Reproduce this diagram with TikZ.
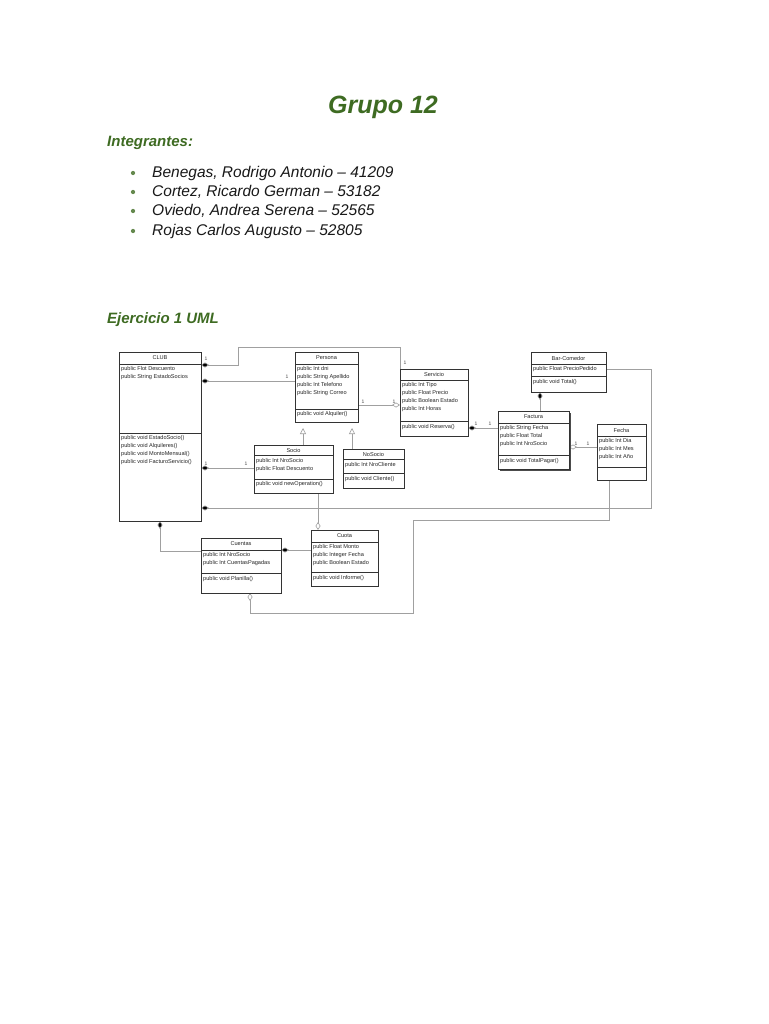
\documentclass[tikz,border=0pt]{standalone}
\usepackage{fontspec}
\setmainfont{Liberation Sans}
\usetikzlibrary{arrows.meta}
\definecolor{hgreen}{HTML}{3E6B22}
\definecolor{lgray}{HTML}{A0A0A0}
\tikzset{
 cls/.style={draw=black!80,line width=0.6pt,fill=white,anchor=north west,inner sep=0pt},
 tx/.style={anchor=north west,inner sep=0pt,align=left,font=\fontsize{5.6}{8.2}\selectfont,text=black!85},
 ttl/.style={inner sep=0pt,font=\fontsize{5.6}{7}\selectfont,text=black!85},
 con/.style={draw=lgray,line width=0.6pt},
 comp/.style={Diamond[length=8pt,width=5pt,fill=black]},
 agg/.style={Diamond[length=8pt,width=5pt,open,fill=white]},
 inh/.style={Triangle[length=6pt,width=6pt,open,fill=white]},
 mult/.style={inner sep=0pt,font=\fontsize{5}{5}\selectfont,text=black!70},
 bul/.style={anchor=west,inner sep=0pt,font=\fontsize{15.5}{18}\selectfont\itshape,text=black!90}
}
\newcommand{\umlcls}[7]{% name x1 y1 x2 y2 title-bottom y list of divider y
 \node[cls,minimum width={(#4-#2)*1pt},minimum height={(#5-#3)*1pt}] (#1) at (#2,#3) {};
 \node[ttl] (#1t) at ({(#2+#4)/2},{(#3+#6)/2}) {#7};
 \draw[black!80,line width=0.5pt] (#2,#6) -- (#4,#6);
}
\begin{document}
\begin{tikzpicture}[x=1pt,y=-1pt]
\useasboundingbox (0,0) rectangle (768,1024);
\fill[white] (0,0) rectangle (768,1024);
\node[font=\fontsize{25}{30}\selectfont\bfseries\itshape,text=hgreen] (title) at (383,107) {Grupo 12};
\node[anchor=west,inner sep=0pt,font=\fontsize{15}{18}\selectfont\bfseries\itshape,text=hgreen] (integ) at (107,143) {Integrantes:};
\foreach \y/\t [count=\i] in {173/{Benegas, Rodrigo Antonio – 41209},192/{Cortez, Ricardo German – 53182},211/{Oviedo, Andrea Serena – 52565},231/{Rojas Carlos Augusto – 52805}}{
 \node[circle,fill=hgreen!80,inner sep=1.5pt] (b\i) at (133,\y) {};
 \node[bul] (m\i) at (152,\y) {\t};
}
\node[anchor=west,inner sep=0pt,font=\fontsize{15}{18}\selectfont\bfseries\itshape,text=hgreen] (ej) at (107,320) {Ejercicio 1 UML};

% connectors (drawn first)
\coordinate (k1) at (238,347); \coordinate (k2) at (400,347);
\draw[con,{Diamond[length=8pt,width=5pt,fill=black]}-] (201,365) -- (238,365) -- (k1) -- (k2) -- (400,369);
\draw[con,{Diamond[length=8pt,width=5pt,fill=black]}-] (201,381) -- (295,381);
\draw[con,-{Diamond[length=8pt,width=5pt,open,fill=white]}] (358,405) -- (400,405);
\draw[con,-{Triangle[length=6pt,width=6pt,open,fill=white]}] (303,445) -- (303,428);
\draw[con,-{Triangle[length=6pt,width=6pt,open,fill=white]}] (352,449) -- (352,428);
\draw[con,{Diamond[length=8pt,width=5pt,fill=black]}-] (201,468) -- (254,468);
\draw[con,{Diamond[length=8pt,width=5pt,fill=black]}-] (201,508) -- (651,508) -- (651,369) -- (606,369);
\draw[con,{Diamond[length=8pt,width=5pt,fill=black]}-] (468,428) -- (498,428);
\draw[con,{Diamond[length=8pt,width=5pt,fill=black]}-] (540,392) -- (540,411);
\draw[con,{Diamond[length=8pt,width=5pt,open,fill=white]}-] (569,447) -- (597,447);
\draw[con,-{Diamond[length=8pt,width=5pt,open,fill=white]}] (318,493) -- (318,530);
\draw[con,{Diamond[length=8pt,width=5pt,fill=black]}-] (160,521) -- (160,551) -- (201,551);
\draw[con,{Diamond[length=8pt,width=5pt,fill=black]}-] (281,550) -- (311,550);
\draw[con,{Diamond[length=8pt,width=5pt,open,fill=white]}-] (250,593) -- (250,613) -- (413,613) -- (413,520) -- (609,520) -- (609,480);

% multiplicities
\node[mult] (n1) at (206,359) {1};
\node[mult] (n2) at (405,363) {1};
\node[mult] (n3) at (287,377) {1};
\node[mult] (n4) at (363,402) {1};
\node[mult] (n5) at (394,402) {1};
\node[mult] (n6) at (206,464) {1};
\node[mult] (n7) at (246,464) {1};
\node[mult] (n8) at (476,424) {1};
\node[mult] (n9) at (490,424) {1};
\node[mult] (n10) at (576,444) {1};
\node[mult] (n11) at (588,444) {1};

% classes
\umlcls{club}{119}{352}{201}{521}{364}{CLUB}
\draw[black!80,line width=0.5pt] (119,433) -- (201,433);
\node[tx] (clubA) at (121,366) {public Flot Descuento\\public String EstadoSocios};
\node[tx] (clubM) at (121,435) {public void EstadoSocio()\\public void Alquileres()\\public void MontoMensual()\\public void FacturoServicio()};

\umlcls{persona}{295}{352}{358}{422}{364}{Persona}
\draw[black!80,line width=0.5pt] (295,409) -- (358,409);
\node[tx] (perA) at (297,366) {public Int dni\\public String Apellido\\public Int Telefono\\public String Correo};
\node[tx] (perM) at (297,411) {public void Alquiler()};

\umlcls{servicio}{400}{369}{468}{436}{380}{Servicio}
\draw[black!80,line width=0.5pt] (400,421) -- (468,421);
\node[tx] (serA) at (402,382) {public Int Tipo\\public Float Precio\\public Boolean Estado\\public Int Horas};
\node[tx] (serM) at (402,424) {public void Reserva()};

\umlcls{socio}{254}{445}{333}{493}{455}{Socio}
\draw[black!80,line width=0.5pt] (254,479) -- (333,479);
\node[tx] (socA) at (256,458) {public Int NroSocio\\public Float Descuento};
\node[tx] (socM) at (256,481) {public void newOperation()};

\umlcls{nosocio}{343}{449}{404}{488}{459}{NoSocio}
\draw[black!80,line width=0.5pt] (343,473) -- (404,473);
\node[tx] (nsA) at (345,462) {public Int NroCliente};
\node[tx] (nsM) at (345,476) {public void Cliente()};

\umlcls{bar}{531}{352}{606}{392}{364}{Bar-Comedor}
\draw[black!80,line width=0.5pt] (531,376) -- (606,376);
\node[tx] (barA) at (533,366) {public Float PrecioPedido};
\node[tx] (barM) at (533,379) {public void Total()};

\fill[black!70] (500,413) rectangle (571,471);
\umlcls{factura}{498}{411}{569}{469}{423}{Factura}
\draw[black!80,line width=0.5pt] (498,455) -- (569,455);
\node[tx] (facA) at (500,425) {public String Fecha\\public Float Total\\public Int NroSocio};
\node[tx] (facM) at (500,458) {public void TotalPagar()};

\umlcls{fecha}{597}{424}{646}{480}{436}{Fecha}
\draw[black!80,line width=0.5pt] (597,467) -- (646,467);
\node[tx] (fecA) at (599,438) {public Int Dia\\public Int Mes\\public Int Año};

\umlcls{cuentas}{201}{538}{281}{593}{550}{Cuentas}
\draw[black!80,line width=0.5pt] (201,573) -- (281,573);
\node[tx] (cueA) at (203,552) {public Int NroSocio\\public Int CuentasPagadas};
\node[tx] (cueM) at (203,576) {public void Planilla()};

\umlcls{cuota}{311}{530}{378}{586}{542}{Cuota}
\draw[black!80,line width=0.5pt] (311,572) -- (378,572);
\node[tx] (cuoA) at (313,544) {public Float Monto\\public Integer Fecha\\public Boolean Estado};
\node[tx] (cuoM) at (313,575) {public void Informe()};
\end{tikzpicture}
\end{document}
